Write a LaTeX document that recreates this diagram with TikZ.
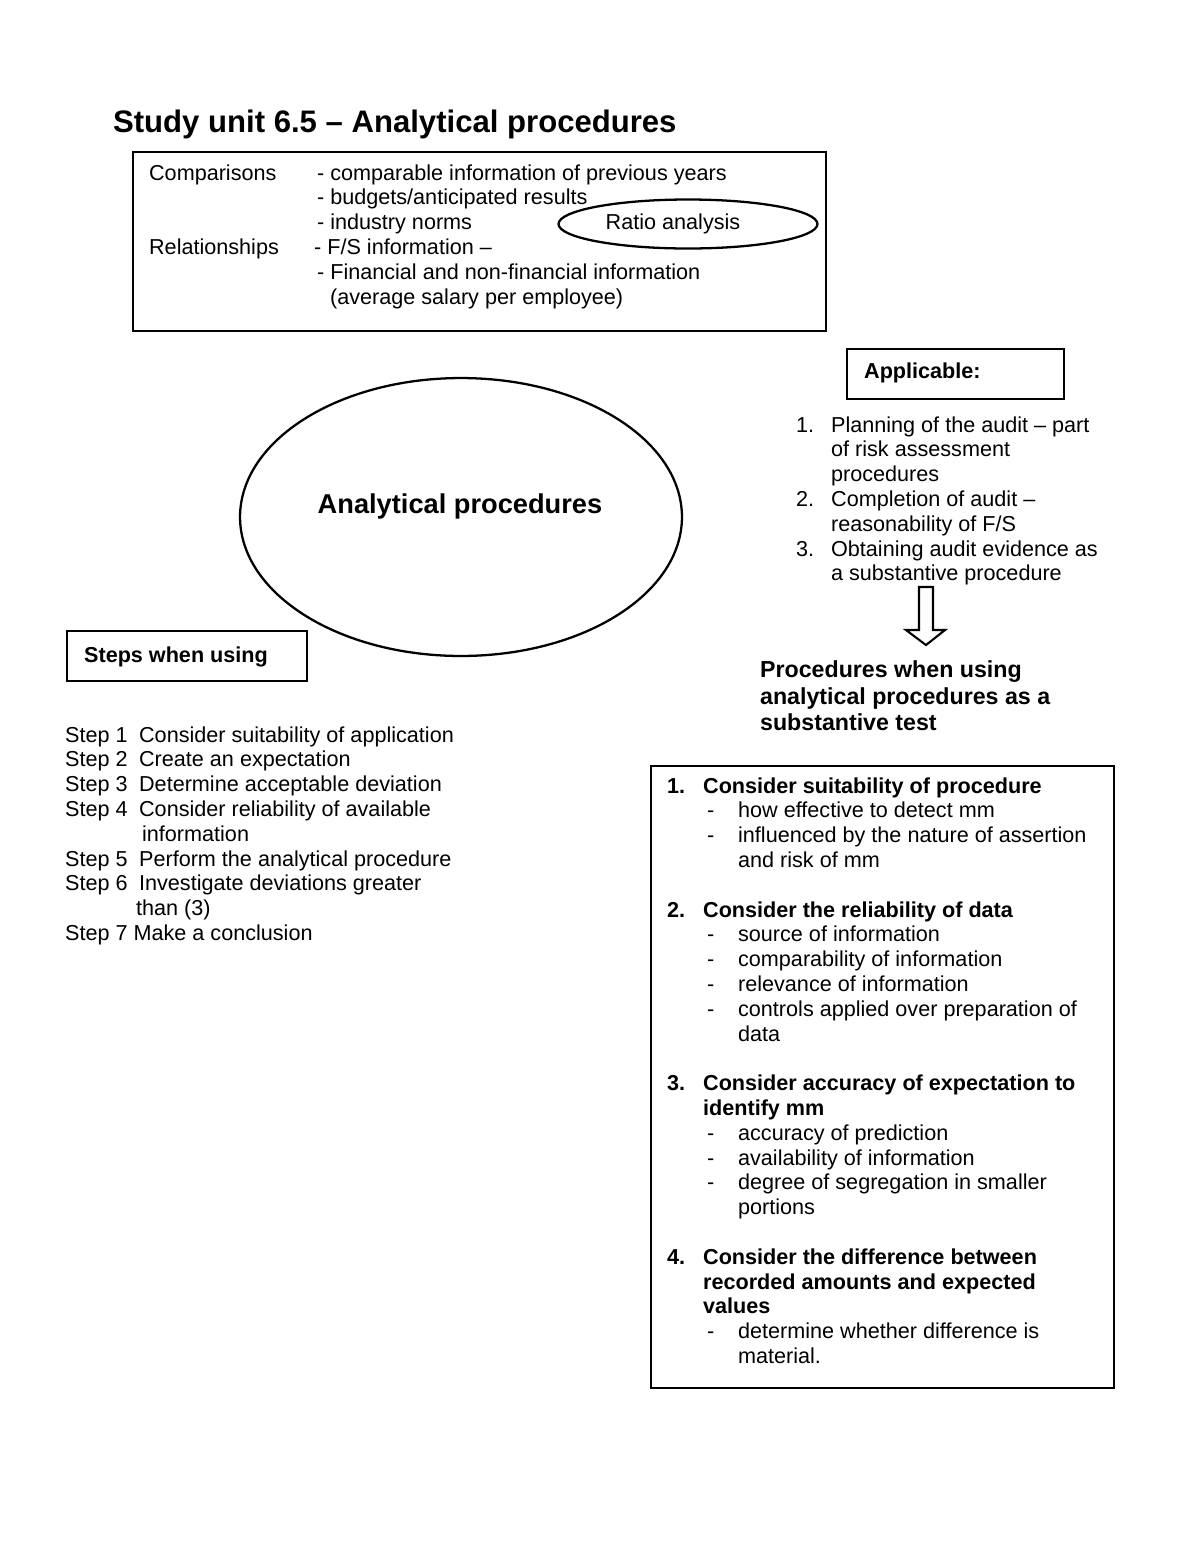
\documentclass[tikz,border=0pt]{standalone}
\usepackage{fontspec}
\setmainfont{Liberation Sans}
\usetikzlibrary{shapes.geometric}
\begin{document}
\begin{tikzpicture}[x=0.02cm, y=-0.02cm, line width=1.3pt,
	txt/.style={anchor=base west, inner sep=0pt, font=\fontsize{12.3}{14.1}\selectfont},
	btxt/.style={txt, font=\fontsize{12.3}{14.1}\selectfont\bfseries},
	bx/.style={draw, line width=1.3pt}]
	\useasboundingbox (0,0) rectangle (1200,1553);
	% title
	\node[anchor=base west, inner sep=0pt, font=\fontsize{17.7}{20}\selectfont\bfseries] (title) at (112,132) {Study unit 6.5 – Analytical procedures};
	% comparisons / relationships
	\draw[bx] (133,152) rectangle (826,331);
	\node[txt] (cmp) at (148,180) {Comparisons};
	\node[txt] (rel) at (148,254.4) {Relationships};
	\node[txt] (c1) at (316,180) {- comparable information of previous years};
	\node[txt] (c2) at (316,204.8) {- budgets/anticipated results};
	\node[txt] (c3) at (316,229.6) {- industry norms};
	\node[txt] (r1) at (313,254.4) {- F/S information –};
	\node[txt] (r2) at (316,279.2) {- Financial and non-financial information};
	\node[txt] (r3) at (329,304) {(average salary per employee)};
	\node[ellipse, draw, minimum width=5.18cm, minimum height=0.98cm, inner sep=0pt] (ratio) at (688,224) {};
	\node[txt, anchor=base] (ratiotxt) at (673,229) {Ratio analysis};
	% applicable
	\draw[bx] (847,349) rectangle (1064,399);
	\node[btxt] (appl) at (863,378) {Applicable:};
	\node[txt] (n1) at (795,432) {1.};
	\node[txt] (a1) at (830,432) {Planning of the audit – part};
	\node[txt] (a1b) at (830,456.8) {of risk assessment};
	\node[txt] (a1c) at (830,481.6) {procedures};
	\node[txt] (n2) at (795,506.4) {2.};
	\node[txt] (a2) at (830,506.4) {Completion of audit –};
	\node[txt] (a2b) at (830,531.2) {reasonability of F/S};
	\node[txt] (n3) at (795,556) {3.};
	\node[txt] (a3) at (830,556) {Obtaining audit evidence as};
	\node[txt] (a3b) at (830,580.8) {a substantive procedure};
	\draw[line width=1.2pt] (919,587) -- (933,587) -- (933,630) -- (945,630) -- (926,645) -- (906,630) -- (919,630) -- cycle;
	\node[anchor=base west, inner sep=0pt, font=\fontsize{13.2}{15.2}\selectfont\bfseries] (subst) at (759,677.5) {Procedures when using};
	\node[anchor=base west, inner sep=0pt, font=\fontsize{13.2}{15.2}\selectfont\bfseries] (subst2) at (759,704) {analytical procedures as a};
	\node[anchor=base west, inner sep=0pt, font=\fontsize{13.2}{15.2}\selectfont\bfseries] (subst3) at (759,730.5) {substantive test};
	% centre
	\node[ellipse, draw, minimum width=8.84cm, minimum height=5.56cm] (ap) at (461,517) {};
	\node[anchor=base, inner sep=0pt, font=\fontsize{15.5}{18}\selectfont\bfseries] (aptxt) at (460,513) {Analytical procedures};
	% steps
	\draw[bx] (67,631) rectangle (307,681);
	\node[btxt] (steps) at (83,662) {Steps when using};
	\foreach \k/\n/\t in {0/1/Consider suitability of application, 1/2/Create an expectation,
		2/3/Determine acceptable deviation, 3/4/Consider reliability of available,
		5/5/Perform the analytical procedure, 6/6/Investigate deviations greater}
	{
		\node[txt] (sn\n) at (64,{742+24.8*\k}) {Step \n};
		\node[txt] (st\n) at (138,{742+24.8*\k}) {\t};
	}
	\node[txt] (st4b) at (141,841.2) {information};
	\node[txt] (st6b) at (135,915.6) {than (3)};
	\node[txt] (sn7) at (64,940.4) {Step 7 Make a conclusion};
	% substantive test
	\draw[bx] (651,766) rectangle (1114,1388);
	\foreach \k/\n/\t in {0/1/Consider suitability of procedure, 5/2/Consider the reliability of data,
		12/3/Consider accuracy of expectation to, 19/4/Consider the difference between}
	{
		\node[btxt] (pn\n) at (666,{793+24.8*\k}) {\n.};
		\node[btxt] (ph\n) at (702,{793+24.8*\k}) {\t};
	}
	\node[btxt] (ph3b) at (702,1115.4) {identify mm};
	\node[btxt] (ph4b) at (702,1289) {recorded amounts and expected};
	\node[btxt] (ph4c) at (702,1313.8) {values};
	\foreach \k/\t in {1/how effective to detect mm, 2/influenced by the nature of assertion,
		6/source of information, 7/comparability of information, 8/relevance of information,
		9/controls applied over preparation of, 14/accuracy of prediction,
		15/availability of information, 16/degree of segregation in smaller,
		22/determine whether difference is}
	{
		\node[txt] (pd\k) at (706,{793+24.8*\k}) {-};
		\node[txt] (pt\k) at (737,{793+24.8*\k}) {\t};
	}
	\node[txt] (pt3) at (737,867.4) {and risk of mm};
	\node[txt] (pt10) at (737,1041) {data};
	\node[txt] (pt17) at (737,1214.6) {portions};
	\node[txt] (pt23) at (737,1363.4) {material.};
\end{tikzpicture}
\end{document}
